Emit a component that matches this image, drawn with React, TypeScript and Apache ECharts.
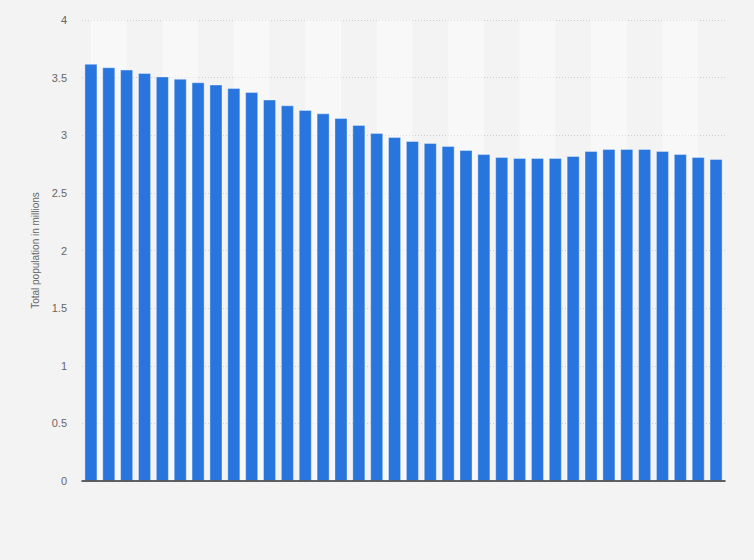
import React, { useEffect, useRef } from "react";
import * as echarts from "echarts";

const years: string[] = [
  "1990", "1991", "1992", "1993", "1994", "1995", "1996", "1997", "1998", "1999",
  "2000", "2001", "2002", "2003", "2004", "2005", "2006", "2007", "2008", "2009",
  "2010", "2011", "2012", "2013", "2014", "2015", "2016", "2017", "2018", "2019",
  "2020", "2021", "2022", "2023", "2024", "2025",
];

const population: number[] = [
  3.62, 3.59, 3.57, 3.54, 3.51, 3.49, 3.46, 3.44, 3.41, 3.375,
  3.31, 3.26, 3.22, 3.19, 3.15, 3.09, 3.02, 2.985, 2.95, 2.933,
  2.907, 2.872, 2.837, 2.811, 2.803, 2.803, 2.803, 2.82, 2.863, 2.881,
  2.881, 2.881, 2.863, 2.837, 2.811, 2.794,
];

const yTicks: number[] = [0, 0.5, 1, 1.5, 2, 2.5, 3, 3.5, 4];

export default function App() {
  const ref = useRef<HTMLDivElement>(null);
  useEffect(() => {
    if (!ref.current) return;
    const chart = echarts.init(ref.current, null, { renderer: "svg" });
    const n = years.length;
    const bands: any[] = [];
    for (let i = 0; i + 2 < n; i += 4) {
      bands.push([{ xAxis: i + 0.5 }, { xAxis: i + 2.5 }]);
    }
    chart.setOption({
      animation: false,
      backgroundColor: "#f3f3f3",
      textStyle: { fontFamily: "Arial, 'Liberation Sans', sans-serif" },
      grid: { left: 82, right: 29, top: 20, bottom: 79 },
      xAxis: [
        {
          type: "category",
          data: years,
          axisLine: { show: true, lineStyle: { color: "#333", width: 1.5 } },
          axisTick: { show: false },
          axisLabel: { show: false },
          splitLine: { show: false },
          z: 5,
        },
        {
          type: "value",
          min: 0,
          max: n,
          show: false,
        },
      ],
      yAxis: {
        type: "value",
        min: yTicks[0],
        max: yTicks[yTicks.length - 1],
        interval: 0.5,
        name: "Total population in millions",
        nameLocation: "middle",
        nameGap: 33,
        nameTextStyle: { color: "#666", fontSize: 10 },
        axisLine: { show: false },
        axisTick: { show: false },
        axisLabel: { color: "#666", fontSize: 11, margin: 15 },
        splitLine: { lineStyle: { color: "#cdcdcd", type: [1, 2], width: 1 } },
      },
      series: [
        {
          type: "line",
          xAxisIndex: 1,
          data: [[0, 0]],
          showSymbol: false,
          symbol: "none",
          lineStyle: { opacity: 0 },
          silent: true,
          z: 0,
          markArea: {
            silent: true,
            itemStyle: { color: "rgba(255,255,255,0.45)" },
            data: bands,
          },
        },
        {
          type: "bar",
          data: population,
          barCategoryGap: "27%",
          z: 3,
          itemStyle: {
            color: "#2876dd",
            borderColor: "rgba(255,255,255,0.35)",
            borderWidth: 1,
          },
        },
      ],
    });
    return () => chart.dispose();
  }, []);
  return (
    <div
      ref={ref}
      style={{ position: "fixed", left: 0, top: 0, width: 754, height: 560 }}
    />
  );
}
